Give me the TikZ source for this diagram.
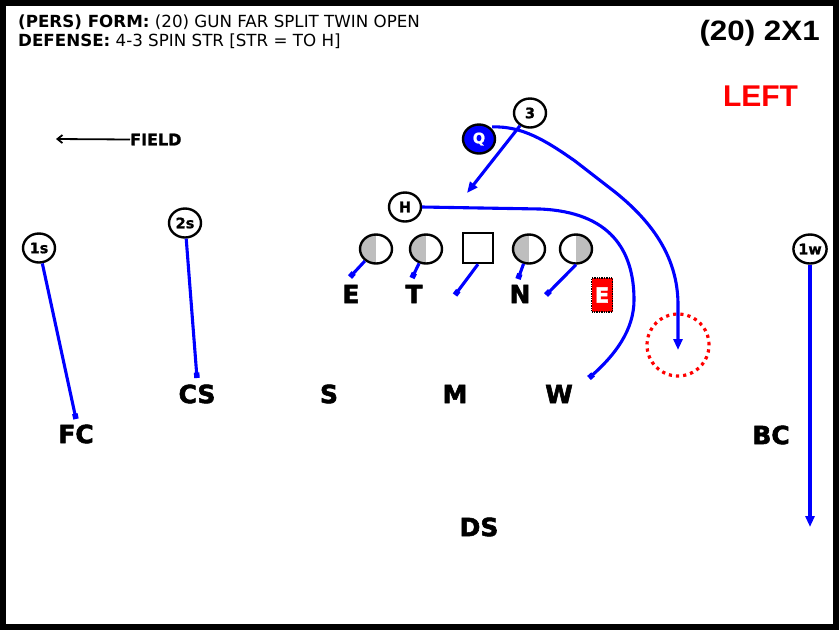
\documentclass[tikz,border=0pt]{standalone}
\usepackage{fontspec}
\usepackage{graphicx}
\setmainfont{DejaVu Sans}
\newfontfamily\arialfont{Liberation Sans}
\newfontfamily\heavyfont[FakeBold=2.2]{DejaVu Sans}
\newfontfamily\boldishfont[FakeBold=1.2]{DejaVu Sans}
\usetikzlibrary{arrows.meta,shapes.geometric}
\definecolor{routeblue}{RGB}{0,0,255}
\definecolor{olgray}{RGB}{190,190,190}
\begin{document}
\begin{tikzpicture}[x=1pt,y=-1pt,
  player/.style={ellipse,draw=black,line width=2.4pt,minimum width=32pt,minimum height=29pt,inner sep=0pt,fill=white,font=\boldishfont\bfseries\fontsize{14.5}{14.5}\selectfont},
  olleft/.style={ellipse,draw=black,line width=2.4pt,minimum width=32pt,minimum height=29pt,inner sep=0pt,fill=white,
    path picture={\fill[olgray] (path picture bounding box.south west) rectangle (path picture bounding box.north);}},
  olright/.style={ellipse,draw=black,line width=2.4pt,minimum width=32pt,minimum height=29pt,inner sep=0pt,fill=white,
    path picture={\fill[olgray] (path picture bounding box.south) rectangle (path picture bounding box.north east);}},
  center/.style={rectangle,draw=black,line width=2.4pt,minimum width=30pt,minimum height=30pt,inner sep=0pt,fill=white},
  deflabel/.style={font=\heavyfont\bfseries\fontsize{25}{25}\selectfont,inner sep=0pt},
  route/.style={draw=routeblue,line width=3.1pt},
  blockend/.style={-{Square[length=5.5pt,width=5.5pt]}},
  arrowend/.style={-{Triangle[length=11pt,width=9pt]}},
]
\useasboundingbox (0,0) rectangle (840,630);
% frame
\draw[line width=6pt] (3,3) rectangle (835.5,627);

% header
\node[anchor=base west,inner sep=0pt,font=\fontsize{16.7}{16.7}\selectfont] (head1) at (18,27) {\textbf{(PERS) FORM:} (20) GUN FAR SPLIT TWIN OPEN};
\node[anchor=base west,inner sep=0pt,font=\fontsize{16.7}{16.7}\selectfont] (head2) at (18,46) {\textbf{DEFENSE:} 4-3 SPIN STR [STR = TO H]};
\node[anchor=base east,inner sep=0pt,font=\arialfont\bfseries\fontsize{28}{28}\selectfont] (title) at (820,40) {\scalebox{1.12}[1]{(20) 2X1}};
\node[anchor=base,inner sep=0pt,text=red,font=\arialfont\bfseries\fontsize{30}{30}\selectfont] (side) at (760.5,106) {LEFT};

% field arrow
\node[anchor=west,inner sep=0pt,font=\boldishfont\bfseries\fontsize{16}{16}\selectfont] (field) at (130,139.5) {FIELD};
\coordinate (fieldtip) at (56,139);
\draw[line width=1.8pt,-{Straight Barb[length=5pt,width=8pt]}] (field.west) -- (fieldtip);

% offensive line
\node[olleft] (oE) at (376,249) {};
\node[olleft] (oT) at (426,249) {};
\node[center] (oC) at (478,248) {};
\node[olleft] (oN) at (529,249) {};
\node[olright] (oG) at (576,249) {};

% skill players
\node[player] (p1s) at (39,248) {1s};
\node[player] (p2s) at (185,223) {2s};
\node[player] (p1w) at (810,249) {1w};
\node[player] (p3) at (530,113) {3};
\node[player] (pH) at (405,207) {H};
\node[player,fill=routeblue,text=white] (pQ) at (479,139) {Q};

% defensive labels
\node[deflabel] (dE) at (351,294) {E};
\node[deflabel] (dT) at (414,294) {T};
\node[deflabel] (dN) at (520,294) {N};
\node[deflabel] (dCS) at (197,394) {CS};
\node[deflabel] (dS) at (329,394) {S};
\node[deflabel] (dM) at (455,394) {M};
\node[deflabel] (dW) at (559,394) {W};
\node[deflabel] (dFC) at (76,434) {FC};
\node[deflabel] (dBC) at (771,435) {BC};
\node[deflabel] (dDS) at (479,527) {DS};
\node[rectangle,fill=red,draw=black,densely dotted,line width=1.4pt,minimum width=21pt,minimum height=34pt,inner sep=0pt,text=white,
  font=\heavyfont\bfseries\fontsize{21}{21}\selectfont] (dEr) at (602,295) {E};

% zone
\node[circle,draw=red,line width=3.2pt,dash pattern=on 3.2pt off 4pt,minimum size=62pt,inner sep=0pt] (zone) at (678,345) {};

% block ends
\coordinate (bE) at (350,277);
\coordinate (bT) at (412,278);
\coordinate (bC) at (455,295);
\coordinate (bN) at (518,279);
\coordinate (bG) at (546,295);
\draw[route,blockend] (oE) -- (bE);
\draw[route,blockend] (oT) -- (bT);
\draw[route,blockend] (oC.south) -- (bC);
\draw[route,blockend] (oN) -- (bN);
\draw[route,blockend] (oG.south) -- (bG);

% routes
\coordinate (r1s) at (76,419);
\coordinate (r2s) at (197,378);
\coordinate (r1w) at (810,527);
\coordinate (r3) at (467,193);
\coordinate (rH) at (589,378);
\coordinate (rQ) at (678,350);
\draw[route,blockend] (p1s) -- (r1s);
\draw[route,blockend] (p2s) -- (r2s);
\draw[route,arrowend] (p1w) -- (r1w);
\draw[route,arrowend] (p3) -- (r3);
\draw[route,blockend] (pH.east) -- (540,209) .. controls (610,212) and (634,250) .. (634,300)
  .. controls (634,330) and (615,355) .. (rH);
\draw[route,arrowend] (pQ.north east) ++(1,-1) .. controls (522,126) and (545,140) .. (575,161)
  -- (615,192) .. controls (660,228) and (678,265) .. (678,305) -- (rQ);
\end{tikzpicture}
\end{document}
